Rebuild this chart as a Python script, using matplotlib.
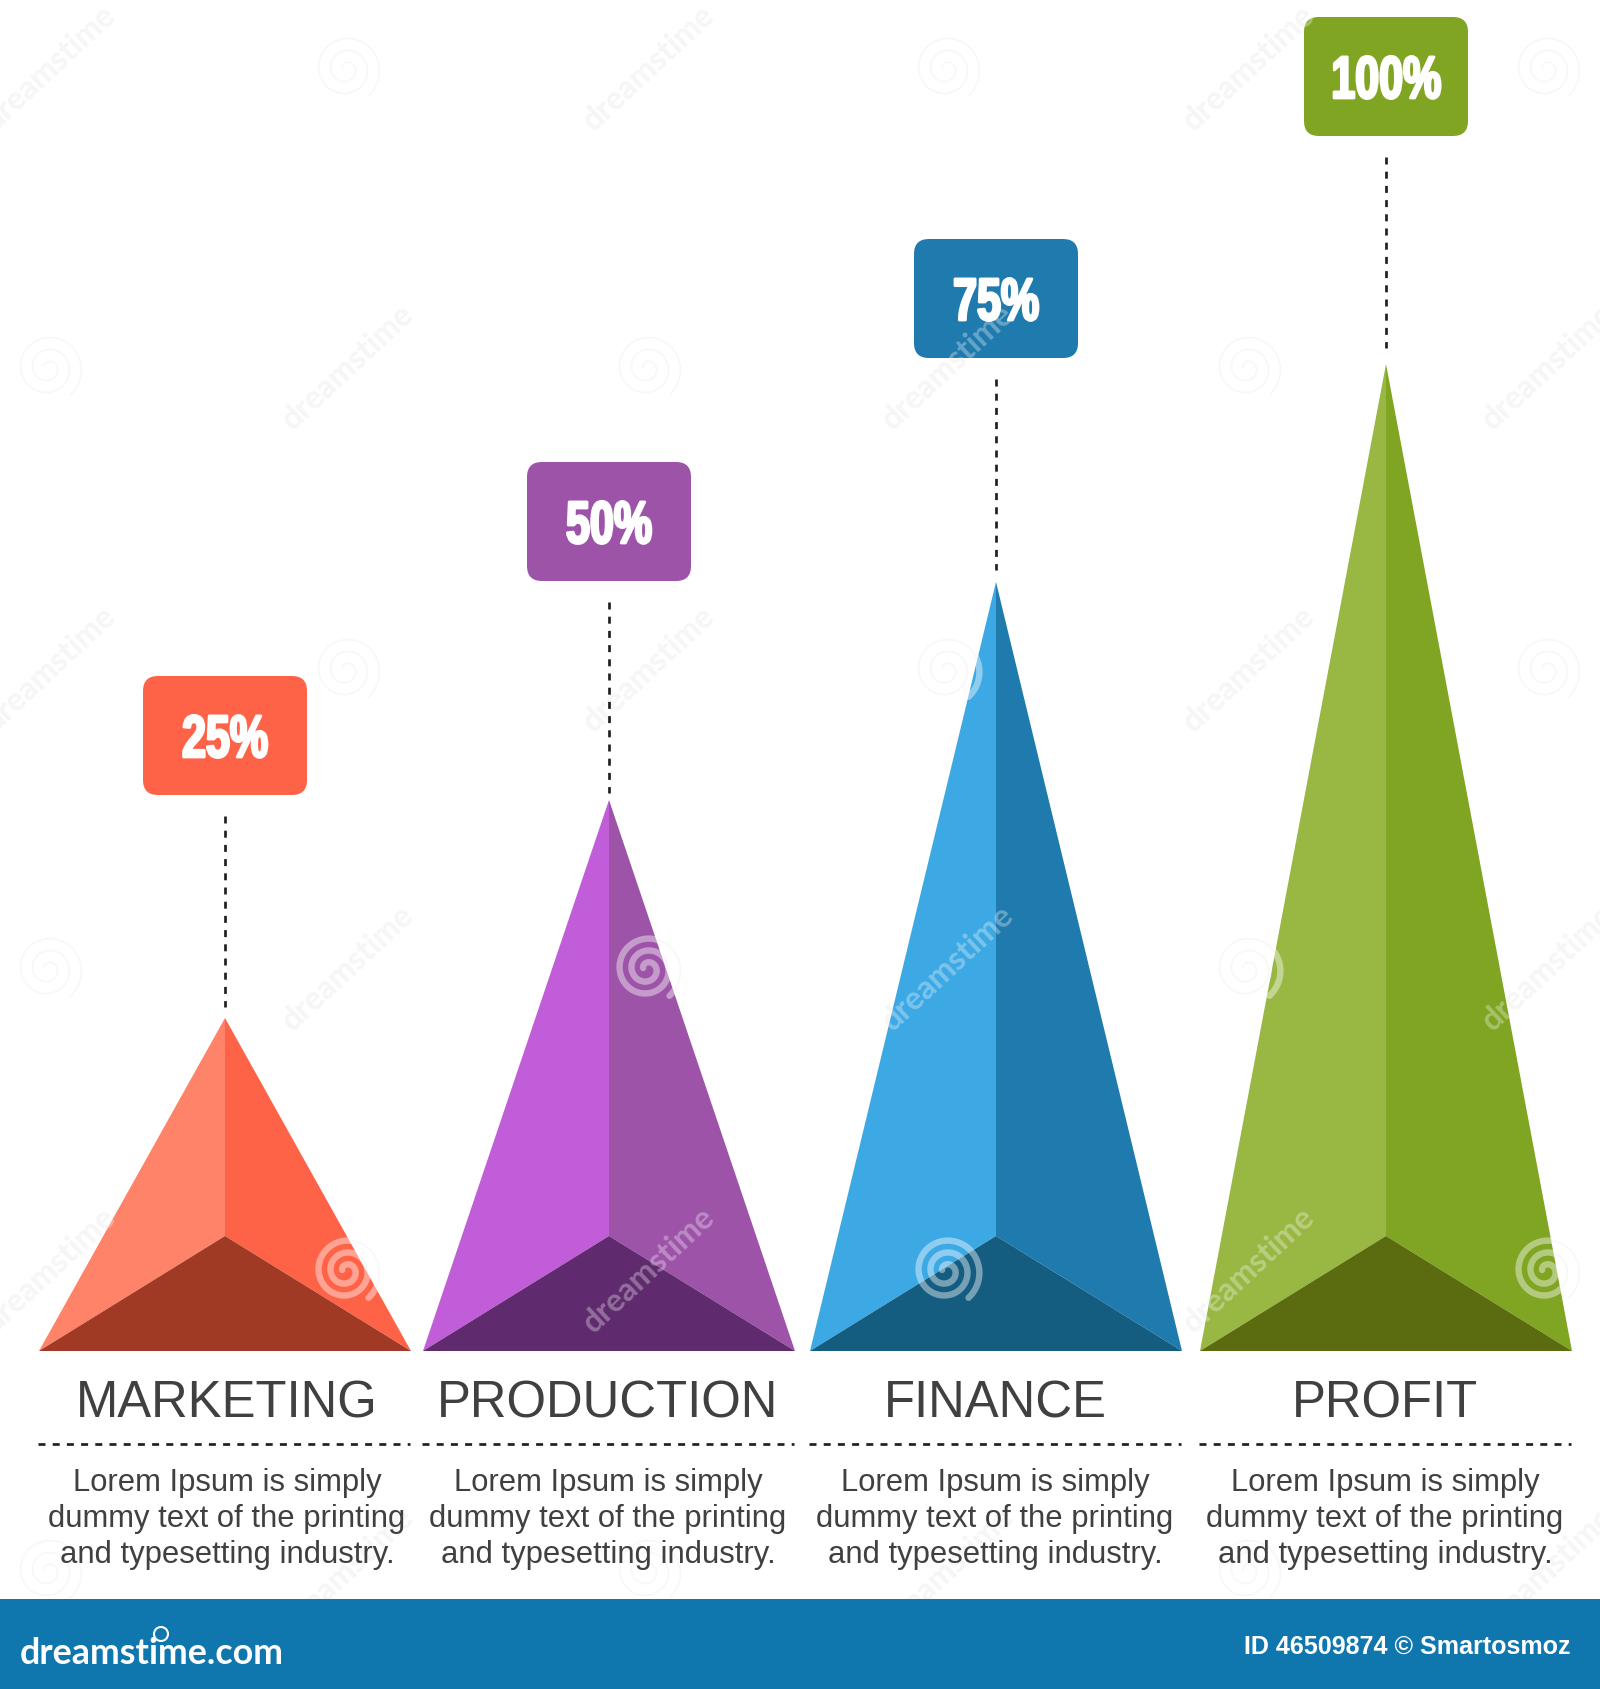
"""Pyramid infographic: four departments with rising percentage labels."""

import matplotlib

matplotlib.use("Agg")
import matplotlib.patheffects as pe
import matplotlib.pyplot as plt
import numpy as np
from matplotlib.patches import Ellipse, FancyBboxPatch, Polygon, Rectangle
from matplotlib.transforms import Affine2D

categories = ["MARKETING", "PRODUCTION", "FINANCE", "PROFIT"]
values = [25, 50, 75, 100]
value_labels = ["25%", "50%", "75%", "100%"]
body_text = "Lorem Ipsum is simply\ndummy text of the printing\nand typesetting industry."
credit_text = "ID 46509874 © Smartosmoz"
logo_text = "dreamstime.com"
watermark_text = "dreamstime"

left_colors = ["#FF8369", "#C15DD8", "#3DA9E4", "#99B743"]
right_colors = ["#FE6348", "#9C53A8", "#1F7AAD", "#7FA522"]
bottom_colors = ["#A03A25", "#5F2A6E", "#145C80", "#5A6B10"]
box_colors = ["#FE6348", "#9C53A8", "#1F7AAD", "#7FA522"]

# layout, in reference pixels
WIDTH, HEIGHT = 1600, 1690
CENTERS = [225, 609, 996, 1386]
TEXT_CENTERS = [227, 608, 995, 1385]
HALF_BASE = 186
BASE_Y = 1352
INNER_Y = 1237
PEAK_PER_PCT = 8.72
PEAK_OFFSET = 115
BOX_W, BOX_H = 164, 119
BOX_GAPS = [223, 219, 224, 228]
LEADER_LEN = 191
BANNER_Y = 1600
TEXT_GREY = "#404040"
WM_ROWS = [70, 369, 671, 970, 1272, 1572]
WM_COLS_A = [348, 948, 1548]
WM_COLS_B = [50, 649, 1249]


class Condensed(pe.AbstractPathEffect):
    """Squeeze the glyphs sideways, there is no heavy condensed font installed."""

    def __init__(self, squeeze, stroke):
        super().__init__()
        self.squeeze = squeeze
        self.stroke = stroke

    def draw_path(self, renderer, gc, tpath, affine, rgbFace=None):
        box = tpath.get_extents()
        mid = (box.x0 + box.x1) / 2
        squeezed = Affine2D().translate(-mid, 0).scale(self.squeeze, 1).translate(mid, 0) + affine
        gc0 = renderer.new_gc()
        gc0.copy_properties(gc)
        gc0.set_linewidth(self.stroke)
        gc0.set_foreground("white")
        renderer.draw_path(gc0, tpath, squeezed, rgbFace)
        gc0.restore()


def peak_y(value: float) -> float:
    return BASE_Y - (PEAK_OFFSET + PEAK_PER_PCT * value)


def dashed(ax, xs, ys, on=7.0, off=7.2, px=2.7):
    # dash lengths are given in pixels, matplotlib wants multiples of linewidth
    ax.plot(xs, ys, color="#1f1f1f", lw=px * 0.72, linestyle=(0, (on / px, off / px)),
            dash_capstyle="butt", zorder=4)


def spiral(ax, col, row, color, alpha, width, zorder):
    # outer end sits at the lower right, winding inwards over the top
    turn = np.linspace(0, 2.6 * 2 * np.pi, 200)
    radius = np.linspace(35, 4, 200)
    angle = np.deg2rad(50) - turn
    ax.plot(col + radius * np.cos(angle), row + radius * np.sin(angle), color=color, alpha=alpha,
            lw=width, solid_capstyle="round", zorder=zorder)


def watermarks(ax, color, text_alpha, spiral_alpha, width, zorder):
    for i, row in enumerate(WM_ROWS):
        spiral_cols = WM_COLS_A if i % 2 == 0 else WM_COLS_B
        text_cols = WM_COLS_B if i % 2 == 0 else WM_COLS_A
        for col in spiral_cols:
            spiral(ax, col - 2, row, color, spiral_alpha, width, zorder)
        for col in text_cols:
            ax.text(col, row - 2, watermark_text, color=color, alpha=text_alpha, rotation=43,
                    fontsize=23, fontweight="bold", ha="center", va="center", family="Lato",
                    zorder=zorder, clip_on=True)


def draw_pyramid(ax, i):
    cx = CENTERS[i]
    left, right = cx - HALF_BASE, cx + HALF_BASE
    top = peak_y(values[i])
    ax.add_patch(Polygon([(left, BASE_Y), (cx, top), (cx, INNER_Y)], fc=left_colors[i], ec="none", zorder=2))
    ax.add_patch(Polygon([(right, BASE_Y), (cx, top), (cx, INNER_Y)], fc=right_colors[i], ec="none", zorder=2))
    ax.add_patch(Polygon([(left, BASE_Y), (cx, INNER_Y), (right, BASE_Y)], fc=bottom_colors[i], ec="none", zorder=2))

    box_bottom = top - BOX_GAPS[i]
    ax.add_patch(FancyBboxPatch((cx - BOX_W / 2 + 15, box_bottom - BOX_H + 15), BOX_W - 30, BOX_H - 30,
                                boxstyle="round,pad=15,rounding_size=15", fc=box_colors[i], ec="none", zorder=2))
    label = ax.text(cx, box_bottom - BOX_H / 2 + 6, value_labels[i], color="white", fontsize=43,
                    fontweight="bold", ha="center", va="center", family="Liberation Sans", zorder=5)
    label.set_path_effects([Condensed(0.72, 2.0)])
    dashed(ax, [cx, cx], [box_bottom + 21, box_bottom + 21 + LEADER_LEN])

    ax.text(TEXT_CENTERS[i], 1404, categories[i], color=TEXT_GREY, fontsize=36.6, ha="center", va="center",
            family="Liberation Sans", zorder=5)
    ax.text(TEXT_CENTERS[i], 1519, body_text, color=TEXT_GREY, fontsize=22.3, ha="center", va="center",
            linespacing=1.28, family="Liberation Sans", zorder=5)
    dashed(ax, [left - 1, right - 1], [1445, 1445])


def main() -> None:
    fig = plt.figure(figsize=(WIDTH / 100, HEIGHT / 100), dpi=100)
    ax = fig.add_axes([0, 0, 1, 1])
    ax.set_xlim(0, WIDTH)
    ax.set_ylim(HEIGHT, 0)
    ax.axis("off")

    watermarks(ax, "#c8c8c8", 0.22, 0.22, 1.2, 1)
    for i in range(len(categories)):
        draw_pyramid(ax, i)
    watermarks(ax, "white", 0.32, 0.42, 4.6, 3)

    ax.add_patch(Rectangle((0, BANNER_Y), WIDTH, HEIGHT - BANNER_Y, fc="#1077AE", ec="none", zorder=6))
    ax.text(20, 1654, logo_text, color="white", fontsize=25.8, fontweight="bold", ha="left", va="center",
            family="Lato", zorder=7)
    ax.add_patch(Ellipse((161, 1635), 14, 14, fill=False, ec="white", lw=1.5, zorder=7))
    ax.text(1571, 1647, credit_text, color="white", fontsize=18.1, fontweight="bold", ha="right", va="center",
            family="Liberation Sans", zorder=7)

    fig.savefig("out.png", dpi=100)
    plt.close(fig)


if __name__ == "__main__":
    main()
